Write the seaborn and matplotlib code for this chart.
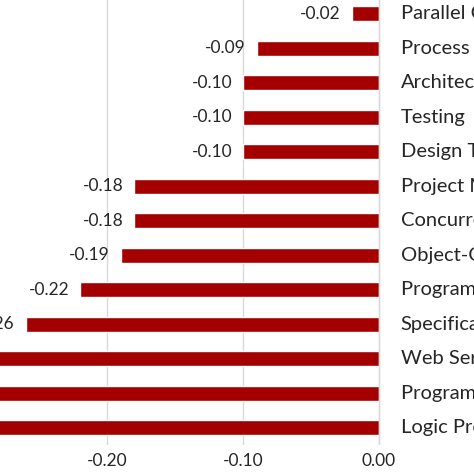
import matplotlib
matplotlib.use("Agg")
import matplotlib.pyplot as plt
import seaborn as sns
import pandas as pd

categories = ["Parallel Computing", "Process Management", "Architecture", "Testing",
              "Design Techniques", "Project Management", "Concurrency", "Object-Oriented",
              "Programming Languages", "Specification", "Web Services",
              "Programming Paradigms", "Logic Programming"]
values = [-0.02, -0.09, -0.10, -0.10, -0.10, -0.18, -0.18, -0.19, -0.22, -0.26, -0.30, -0.32, -0.34]
xticks = [-0.20, -0.10, 0.00]

sns.set_style("white")
plt.rcParams['font.family'] = ['Lato', 'DejaVu Sans']
df = pd.DataFrame({"cat": categories, "val": values})

fig = plt.figure(figsize=(4.74, 4.74), dpi=100)
ax = fig.add_axes([-0.0, 0.061, 1.0, 0.95])
sns.barplot(data=df, x="val", y="cat", color="#a50000", width=0.43, ax=ax, saturation=1)
ax.set_xlim(-0.279, 0.0699)
ax.set_ylim(12.5, -0.55)
ax.set_xticks(xticks)
ax.set_xticklabels([f"{t:.2f}" for t in xticks], fontsize=12.5)
ax.tick_params(axis='x', length=0, pad=6)
ax.set_yticks([])
ax.set_xlabel(""); ax.set_ylabel("")
for s in ax.spines.values():
    s.set_visible(False)
ax.grid(axis='x', color='#d9d9d9', lw=1)
ax.axvline(0, color='#d9d9d9', lw=1)
ax.set_axisbelow(True)
for i, (c, v) in enumerate(zip(categories, values)):
    ax.text(v - 0.008, i, f"{v:.2f}", ha='right', va='center', fontsize=12.5)
    ax.text(0.016, i, c, ha='left', va='center', fontsize=14.5)
fig.savefig("out.png", dpi=100)
